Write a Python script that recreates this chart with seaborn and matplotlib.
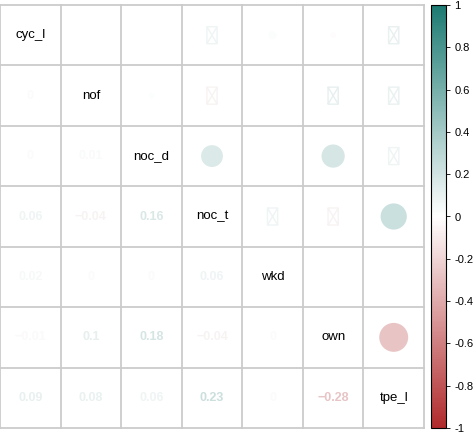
import numpy as np
import pandas as pd
import seaborn as sns
import matplotlib
matplotlib.use("Agg")
import matplotlib.pyplot as plt
from matplotlib.colors import LinearSegmentedColormap, Normalize
from matplotlib.colorbar import ColorbarBase
from matplotlib.path import Path

# ---------------- data ----------------
variables = ["cyc_l", "nof", "noc_d", "noc_t", "wkd", "own", "tpe_l"]
# lower-triangle correlations, row by row (row i, columns 0..i-1)
lower_rows = [
    [],
    [0.0],
    [0.0, 0.01],
    [0.06, -0.04, 0.16],
    [0.02, 0.0, 0.0, 0.06],
    [-0.01, 0.1, 0.18, -0.04, 0.0],
    [0.09, 0.08, 0.06, 0.23, 0.0, -0.28],
]
# upper-triangle cells marked as not significant (row, col)
insignificant = [(0, 3), (0, 6), (1, 3), (1, 5), (1, 6), (2, 6), (3, 4), (3, 5)]
cbar_ticks = [-1, -0.8, -0.6, -0.4, -0.2, 0, 0.2, 0.4, 0.6, 0.8, 1]

n = len(variables)
R = np.eye(n)
for i, row in enumerate(lower_rows):
    for j, v in enumerate(row):
        R[i, j] = v
        R[j, i] = v

cmap = LinearSegmentedColormap.from_list("corr", ["#B02A2C", "#FFFFFF", "#1C7A72"])
norm = Normalize(-1, 1)

plt.rcParams["font.family"] = ["Liberation Sans", "DejaVu Sans"]

fig = plt.figure(figsize=(4.74, 4.36), dpi=100)
ax = fig.add_axes([0.0, 8 / 436, 424 / 474, 423 / 436])
cax = fig.add_axes([431 / 474, 8 / 436, 15 / 474, 423 / 436])

# upper triangle circles
up = []
for i in range(n):
    for j in range(i + 1, n):
        if (i, j) in insignificant:
            continue
        up.append({"x": j, "y": i, "r": R[i, j], "absr": abs(R[i, j])})
up = pd.DataFrame(up)
cell_px = 423 / n
full_pt = cell_px * 0.905 * 0.72
sns.scatterplot(data=up, x="x", y="y", hue="r", palette=cmap, hue_norm=(-1, 1),
                size="absr", sizes=(0, full_pt ** 2), size_norm=(0, 1),
                legend=False, edgecolor="none", ax=ax, zorder=3)

# insignificant markers (tall box with cross)
w, h = 0.6, 1.0
box_x = Path(
    [(-w, -h), (w, -h), (w, h), (-w, h), (-w, -h), (-w, -h), (w, h), (w, -h), (-w, h)],
    [Path.MOVETO, Path.LINETO, Path.LINETO, Path.LINETO, Path.CLOSEPOLY,
     Path.MOVETO, Path.LINETO, Path.MOVETO, Path.LINETO],
)
ins = pd.DataFrame([{"x": j, "y": i, "r": R[i, j]} for (i, j) in insignificant])
ins_cols = []
for v in ins["r"]:
    c = np.array(cmap(norm(v))[:3])
    ins_cols.append(tuple(0.9 * c + 0.1 * 0.85))
ax.scatter(ins["x"], ins["y"], marker=box_x, s=150, facecolors="none",
           edgecolors=ins_cols, linewidths=1.0, zorder=3)

# lower triangle numbers
for i in range(n):
    for j in range(i):
        v = R[i, j]
        txt = f"{abs(v):g}"
        if v < 0:
            txt = "\u2212" + txt
        c = np.array(cmap(norm(v))[:3])
        c = 0.93 * c + 0.07 * 0.8
        ax.text(j, i, txt, ha="center", va="center", fontsize=9,
                fontweight="bold", color=tuple(c), zorder=3)

# diagonal labels
for k, name in enumerate(variables):
    ax.text(k, k, name, ha="center", va="center", fontsize=9.5, color="black", zorder=3)

# grid
for k in range(n + 1):
    ax.axhline(k - 0.5, color="#cbcbcb", lw=1.3, clip_on=False, zorder=1)
    ax.axvline(k - 0.5, color="#cbcbcb", lw=1.3, clip_on=False, zorder=1)

ax.set_xlim(-0.5, n - 0.5)
ax.set_ylim(n - 0.5, -0.5)
ax.set_xlabel("")
ax.set_ylabel("")
ax.set_xticks([])
ax.set_yticks([])
for s in ax.spines.values():
    s.set_visible(False)

cb = ColorbarBase(cax, cmap=cmap, norm=norm, ticks=cbar_ticks)
cb.set_ticklabels([f"{t:g}" for t in cbar_ticks])
cax.tick_params(labelsize=8, length=3, width=0.6, pad=3)
cb.outline.set_linewidth(0.8)

fig.savefig("out.png", dpi=100)
